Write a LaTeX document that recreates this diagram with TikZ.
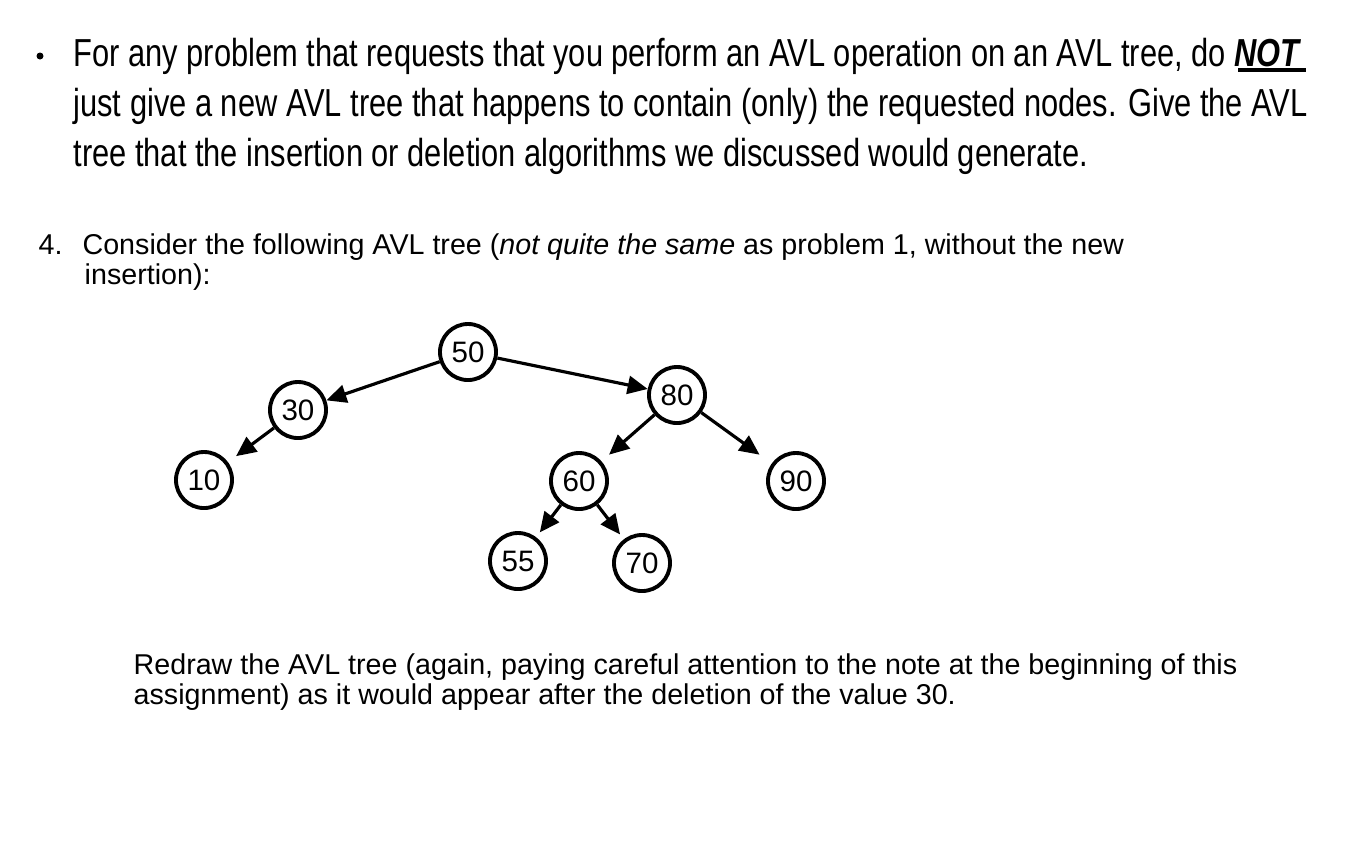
\documentclass[tikz,border=0pt]{standalone}
\usepackage{fontspec}
\setmainfont{Liberation Sans}
\usetikzlibrary{arrows.meta}
\begin{document}
\begin{tikzpicture}[x=0.01cm,y=-0.01cm,
  tn/.style={circle,draw,line width=1.1pt,minimum size=0.56cm,inner sep=0pt,font=\fontsize{8.4}{10}\selectfont},
  ed/.style={line width=0.9pt,-{Triangle[length=0.2cm,width=0.18cm]}},
  hd/.style={anchor=base west,inner sep=0pt,xscale=0.79,font=\fontsize{11.1}{12}\selectfont},
  bd/.style={anchor=base west,inner sep=0pt,font=\fontsize{8.15}{9}\selectfont}]
\useasboundingbox (0,0) rectangle (1364,844);
\fill (40,56) circle (3.5);
\node[hd] (h1) at (73,66) {For any problem that requests that you perform an AVL operation on an AVL tree, do \textbf{\textit{NOT}}};
\draw[line width=1.4pt] (1238,70) -- (1306,70);
\node[hd] (h2) at (73,116) {just give a new AVL tree that happens to contain (only) the requested nodes. Give the AVL};
\node[hd] (h3) at (73,166) {tree that the insertion or deletion algorithms we discussed would generate.};
\node[bd] (b1) at (38,254) {4.\hspace{0.2cm}Consider the following AVL tree (\textit{not quite the same} as problem 1, without the new};
\node[bd] (b2) at (84,284) {insertion):};
\node[bd] (c1) at (133,674) {Redraw the AVL tree (again, paying careful attention to the note at the beginning of this};
\node[bd] (c2) at (133,704) {assignment) as it would appear after the deletion of the value 30.};
\node[tn] (n50) at (468,352) {50};
\node[tn] (n30) at (298,410) {30};
\node[tn] (n10) at (204,480) {10};
\node[tn] (n80) at (677,395) {80};
\node[tn] (n60) at (579,481) {60};
\node[tn] (n90) at (796,481) {90};
\node[tn] (n55) at (518,561) {55};
\node[tn] (n70) at (642,563) {70};
\draw[ed] (n50) -- (n30);
\draw[ed] (n50) -- (n80);
\draw[ed,shorten >=0.1cm] (n30) -- (n10);
\draw[ed,shorten >=0.1cm] (n80) -- (n60);
\draw[ed,shorten >=0.15cm] (n80) -- (n90);
\draw[ed,shorten >=0.06cm] (n60) -- (n55);
\draw[ed,shorten >=0.06cm] (n60) -- (n70);
\end{tikzpicture}
\end{document}
